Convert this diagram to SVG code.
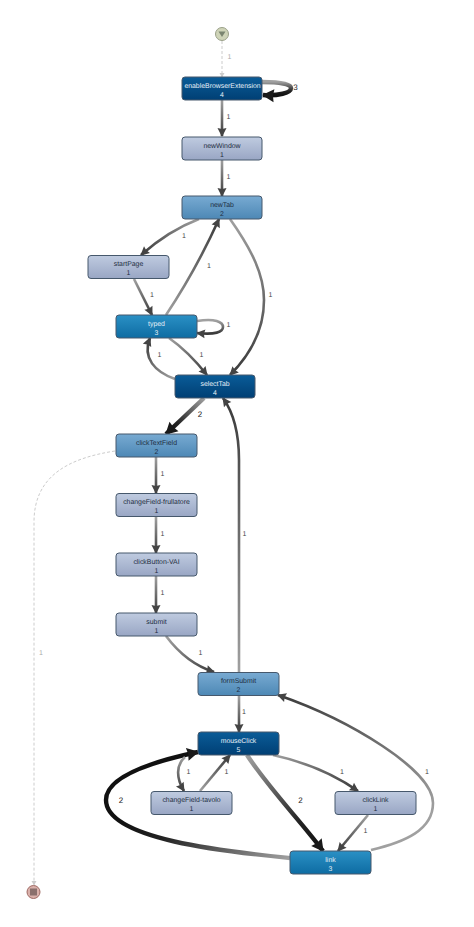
<svg xmlns="http://www.w3.org/2000/svg" xmlns:xlink="http://www.w3.org/1999/xlink" width="474" height="927" viewBox="0 0 474 927">
<style>
text{font-family:"Liberation Sans",Arial,sans-serif;text-anchor:middle;text-rendering:geometricPrecision}
.n text{font-size:6.9px}
.lt text{fill:#e8f0f8}
.dk text{fill:#1c2c40}
.n rect{stroke:#46586c;stroke-width:1}
.l{font-size:7px;fill:#444}
.b{font-size:8px;fill:#222}
.d{font-size:7px;fill:#aaa}
.e{fill:none;stroke-width:2.6}
.t{stroke-width:4.4}
.ds{fill:none;stroke:#ccc;stroke-width:1;stroke-dasharray:3 2}
</style>
<defs>
<linearGradient id="gw" x1="0" y1="0" x2="0" y2="1"><stop offset="0" stop-color="#bfcbe0"/><stop offset="1" stop-color="#99a6c4"/></linearGradient>
<linearGradient id="gm" x1="0" y1="0" x2="0" y2="1"><stop offset="0" stop-color="#78aad2"/><stop offset="1" stop-color="#4d88b5"/></linearGradient>
<linearGradient id="gt" x1="0" y1="0" x2="0" y2="1"><stop offset="0" stop-color="#2a90c5"/><stop offset="1" stop-color="#0e6ca2"/></linearGradient>
<linearGradient id="gd" x1="0" y1="0" x2="0" y2="1"><stop offset="0" stop-color="#0a5c98"/><stop offset="1" stop-color="#003f74"/></linearGradient>
<linearGradient id="s"><stop offset="0" stop-color="#a0a0a0"/><stop offset="1" stop-color="#3a3a3a"/></linearGradient>
<linearGradient id="k"><stop offset="0" stop-color="#a0a0a0"/><stop offset=".7" stop-color="#222"/><stop offset="1" stop-color="#111"/></linearGradient>
<linearGradient id="e1" xlink:href="#s" gradientUnits="userSpaceOnUse" x1="222" y1="100" x2="222" y2="136"/>
<linearGradient id="e2" xlink:href="#s" gradientUnits="userSpaceOnUse" x1="222" y1="160" x2="222" y2="196"/>
<linearGradient id="e3" xlink:href="#s" gradientUnits="userSpaceOnUse" x1="199" y1="219" x2="141" y2="255"/>
<linearGradient id="e4" xlink:href="#s" gradientUnits="userSpaceOnUse" x1="166" y1="315" x2="219" y2="219"/>
<linearGradient id="e5" xlink:href="#s" gradientUnits="userSpaceOnUse" x1="230" y1="219" x2="230" y2="375"/>
<linearGradient id="e6" xlink:href="#s" gradientUnits="userSpaceOnUse" x1="134" y1="279" x2="152" y2="315"/>
<linearGradient id="e7" xlink:href="#s" gradientUnits="userSpaceOnUse" x1="197" y1="321" x2="197" y2="333"/>
<linearGradient id="e8" xlink:href="#s" gradientUnits="userSpaceOnUse" x1="175" y1="379" x2="150" y2="338"/>
<linearGradient id="e9" xlink:href="#s" gradientUnits="userSpaceOnUse" x1="169" y1="338" x2="207" y2="375"/>
<linearGradient id="e10" xlink:href="#k" gradientUnits="userSpaceOnUse" x1="204" y1="398" x2="166" y2="434"/>
<linearGradient id="e11" xlink:href="#s" gradientUnits="userSpaceOnUse" x1="156" y1="457" x2="156" y2="493"/>
<linearGradient id="e12" xlink:href="#s" gradientUnits="userSpaceOnUse" x1="156" y1="517" x2="156" y2="553"/>
<linearGradient id="e13" xlink:href="#s" gradientUnits="userSpaceOnUse" x1="156" y1="576" x2="156" y2="613"/>
<linearGradient id="e14" xlink:href="#s" gradientUnits="userSpaceOnUse" x1="166" y1="636" x2="214" y2="672"/>
<linearGradient id="e15" xlink:href="#s" gradientUnits="userSpaceOnUse" x1="239" y1="672" x2="239" y2="398"/>
<linearGradient id="e16" xlink:href="#s" gradientUnits="userSpaceOnUse" x1="239" y1="696" x2="239" y2="732"/>
<linearGradient id="e17" xlink:href="#s" gradientUnits="userSpaceOnUse" x1="371" y1="850" x2="278" y2="695"/>
<linearGradient id="e18" xlink:href="#s" gradientUnits="userSpaceOnUse" x1="273" y1="755" x2="358" y2="791"/>
<linearGradient id="e19" xlink:href="#k" gradientUnits="userSpaceOnUse" x1="247" y1="755" x2="323" y2="851"/>
<linearGradient id="e20" xlink:href="#s" gradientUnits="userSpaceOnUse" x1="368" y1="815" x2="338" y2="851"/>
<linearGradient id="e21" xlink:href="#k" gradientUnits="userSpaceOnUse" x1="290" y1="858" x2="198" y2="752"/>
<linearGradient id="e22" xlink:href="#s" gradientUnits="userSpaceOnUse" x1="185" y1="757" x2="184" y2="791"/>
<linearGradient id="e23" xlink:href="#s" gradientUnits="userSpaceOnUse" x1="200" y1="791" x2="230" y2="755"/>
<linearGradient id="e24" xlink:href="#k" gradientUnits="userSpaceOnUse" x1="262" y1="82" x2="262" y2="95"/>
<marker id="a" markerUnits="userSpaceOnUse" markerWidth="12" markerHeight="12" refX="8" refY="5" orient="auto" overflow="visible"><path d="M0,0.500 L9,5 L0,9.500 L1,5 Z" fill="#444"/></marker>
<marker id="at" markerUnits="userSpaceOnUse" markerWidth="16" markerHeight="16" refX="11" refY="7" orient="auto" overflow="visible"><path d="M0,0.500 L12,7 L0,13.500 L1,7 Z" fill="#1a1a1a"/></marker>
<marker id="ad" markerUnits="userSpaceOnUse" markerWidth="6" markerHeight="6" refX="4" refY="2.500" orient="auto" overflow="visible"><path d="M0,0 L4.500,2.500 L0,5 Z" fill="#ccc"/></marker>
</defs>
<g id="connectors">
<path class="ds" d="M222,41 L222,77" marker-end="url(#ad)"/>
<path class="ds" d="M115,451 C70,458 34,475 34,522 L34,885" marker-end="url(#ad)"/>
<path class="e t" stroke="url(#e24)" d="M262,82 C280,82 291,84 291,88 C291,93 278,96 263,95" marker-end="url(#at)"/>
<path class="e" stroke="url(#e1)" d="M222,100 L222,136" marker-end="url(#a)"/>
<path class="e" stroke="url(#e2)" d="M222,160 L222,196" marker-end="url(#a)"/>
<path class="e" stroke="url(#e3)" d="M199,219 C178,227 158,240 141,255" marker-end="url(#a)"/>
<path class="e" stroke="url(#e4)" d="M166,315 C188,282 205,250 219,219" marker-end="url(#a)"/>
<path class="e" stroke="url(#e5)" d="M230,219 C252,250 264,275 264,300 C264,330 250,355 230,375" marker-end="url(#a)"/>
<path class="e" stroke="url(#e6)" d="M134,279 L152,315" marker-end="url(#a)"/>
<path class="e" stroke="url(#e7)" d="M197,321 C215,318 223,322 223,327 C223,332 215,335 197,333" marker-end="url(#a)"/>
<path class="e" stroke="url(#e8)" d="M175,379 C155,372 142,358 150,338" marker-end="url(#a)"/>
<path class="e" stroke="url(#e9)" d="M169,338 C182,347 195,360 207,375" marker-end="url(#a)"/>
<path class="e t" stroke="url(#e10)" d="M204,398 L166,434" marker-end="url(#at)"/>
<path class="e" stroke="url(#e11)" d="M156,457 L156,493" marker-end="url(#a)"/>
<path class="e" stroke="url(#e12)" d="M156,517 L156,553" marker-end="url(#a)"/>
<path class="e" stroke="url(#e13)" d="M156,576 L156,613" marker-end="url(#a)"/>
<path class="e" stroke="url(#e14)" d="M166,636 C178,652 195,666 214,672" marker-end="url(#a)"/>
<path class="e" stroke="url(#e15)" d="M239,672 L239,460 C239,430 233,412 223,398" marker-end="url(#a)"/>
<path class="e" stroke="url(#e16)" d="M239,696 L239,732" marker-end="url(#a)"/>
<path class="e" stroke="url(#e17)" d="M371,850 C405,842 433,830 433,803 C433,770 350,720 278,695" marker-end="url(#a)"/>
<path class="e" stroke="url(#e18)" d="M273,755 C305,762 335,775 358,791" marker-end="url(#a)"/>
<path class="e t" stroke="url(#e19)" d="M247,755 C270,790 300,820 323,851" marker-end="url(#at)"/>
<path class="e" stroke="url(#e20)" d="M368,815 L338,851" marker-end="url(#a)"/>
<path class="e t" stroke="url(#e21)" d="M290,858 C230,852 106,840 106,800 C106,775 160,760 198,752" marker-end="url(#at)"/>
<path class="e" stroke="url(#e22)" d="M185,757 C176,765 176,778 184,791" marker-end="url(#a)"/>
<path class="e" stroke="url(#e23)" d="M200,791 L230,755" marker-end="url(#a)"/>
</g>
<g id="edge-labels">
<text class="d" x="229.500" y="59">1</text>
<text class="b" x="295.500" y="90">3</text>
<text class="l" x="228.500" y="119">1</text>
<text class="l" x="228.500" y="178.500">1</text>
<text class="l" x="184" y="237.500">1</text>
<text class="l" x="209" y="268">1</text>
<text class="l" x="270.500" y="297">1</text>
<text class="l" x="152" y="297">1</text>
<text class="l" x="228.500" y="327">1</text>
<text class="l" x="159.500" y="357">1</text>
<text class="l" x="201.500" y="357">1</text>
<text class="b" x="200" y="417">2</text>
<text class="l" x="162.500" y="476">1</text>
<text class="l" x="162.500" y="535.500">1</text>
<text class="l" x="162.500" y="595">1</text>
<text class="l" x="200.500" y="654.500">1</text>
<text class="l" x="244.500" y="535.500">1</text>
<text class="d" x="41" y="654.500">1</text>
<text class="l" x="244" y="714">1</text>
<text class="l" x="188.500" y="774">1</text>
<text class="l" x="226.500" y="774">1</text>
<text class="l" x="342" y="774">1</text>
<text class="l" x="427" y="774">1</text>
<text class="b" x="300.500" y="803">2</text>
<text class="b" x="121" y="803">2</text>
<text class="l" x="365.500" y="833">1</text>
</g>
<g id="start"><circle cx="222" cy="34" r="6.500" fill="#cfd4b8" stroke="#9aa088"/><path d="M218.500,31.500 H225.500 L222,37 Z" fill="#7b8570"/></g>
<g id="end"><circle cx="33.500" cy="892" r="6.500" fill="#d9b0aa" stroke="#a06a64"/><rect x="30" y="888.500" width="7" height="7" fill="#8a6f6c"/></g>
<g id="enableBrowserExtension" class="n lt"><rect x="182" y="77" width="80" height="23" rx="3" fill="url(#gd)"/><text x="222.500" y="87.500">enableBrowserExtension</text><text x="222" y="96.500">4</text></g>
<g id="newWindow" class="n dk"><rect x="182" y="137" width="80" height="23" rx="3" fill="url(#gw)"/><text x="222" y="147.500">newWindow</text><text x="222" y="156.500">1</text></g>
<g id="newTab" class="n dk"><rect x="182" y="196" width="80" height="23" rx="3" fill="url(#gm)"/><text x="222" y="206.500">newTab</text><text x="222" y="215.500">2</text></g>
<g id="startPage" class="n dk"><rect x="88" y="255.500" width="81" height="23" rx="3" fill="url(#gw)"/><text x="128.500" y="266">startPage</text><text x="128.500" y="275">1</text></g>
<g id="typed" class="n lt"><rect x="116" y="315" width="81" height="23" rx="3" fill="url(#gt)"/><text x="156.500" y="325.500">typed</text><text x="156.500" y="334.500">3</text></g>
<g id="selectTab" class="n lt"><rect x="175" y="375" width="80" height="23" rx="3" fill="url(#gd)"/><text x="215" y="385.500">selectTab</text><text x="215" y="394.500">4</text></g>
<g id="clickTextField" class="n dk"><rect x="116" y="434" width="81" height="23" rx="3" fill="url(#gm)"/><text x="156.500" y="444.500">clickTextField</text><text x="156.500" y="453.500">2</text></g>
<g id="changeField-frullatore" class="n dk"><rect x="116" y="493.500" width="81" height="23" rx="3" fill="url(#gw)"/><text x="156.500" y="504">changeField-frullatore</text><text x="156.500" y="513">1</text></g>
<g id="clickButton-VAI" class="n dk"><rect x="116" y="553" width="81" height="23" rx="3" fill="url(#gw)"/><text x="156.500" y="563.500">clickButton-VAI</text><text x="156.500" y="572.500">1</text></g>
<g id="submit" class="n dk"><rect x="116" y="613" width="81" height="23" rx="3" fill="url(#gw)"/><text x="156.500" y="623.500">submit</text><text x="156.500" y="632.500">1</text></g>
<g id="formSubmit" class="n dk"><rect x="198" y="672.500" width="81" height="23" rx="3" fill="url(#gm)"/><text x="238.500" y="683">formSubmit</text><text x="238.500" y="692">2</text></g>
<g id="mouseClick" class="n lt"><rect x="198" y="732" width="81" height="23" rx="3" fill="url(#gd)"/><text x="238.500" y="742.500">mouseClick</text><text x="238.500" y="751.500">5</text></g>
<g id="changeField-tavolo" class="n dk"><rect x="151" y="791.500" width="81" height="23" rx="3" fill="url(#gw)"/><text x="191.500" y="802">changeField-tavolo</text><text x="191.500" y="811">1</text></g>
<g id="clickLink" class="n dk"><rect x="335" y="791.500" width="81" height="23" rx="3" fill="url(#gw)"/><text x="375.500" y="802">clickLink</text><text x="375.500" y="811">1</text></g>
<g id="link" class="n lt"><rect x="290" y="851" width="81" height="23" rx="3" fill="url(#gt)"/><text x="330.500" y="861.500">link</text><text x="330.500" y="870.500">3</text></g>
</svg>
